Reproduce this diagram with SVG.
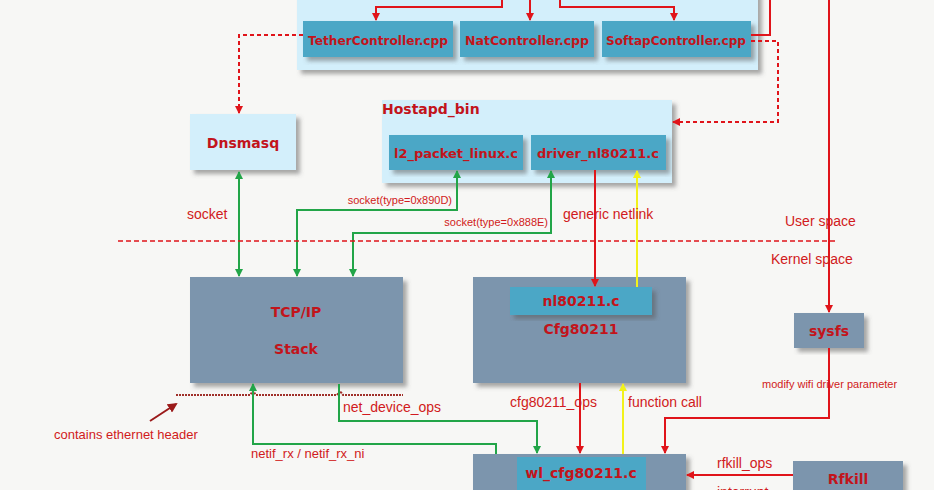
<svg xmlns="http://www.w3.org/2000/svg" width="934" height="490" viewBox="0 0 934 490">
<style>
.lb{fill:#d3effb}.tl{fill:#4ba7c6}.sl{fill:#7b95ad}
.bt{font-family:"DejaVu Sans",sans-serif;font-weight:bold;fill:#c2141b;text-anchor:middle}
.t{font-family:"Liberation Sans",sans-serif;fill:#d11a20}
.r{stroke:#e0141a;stroke-width:2;fill:none}
.rd{stroke:#e0141a;stroke-width:2;fill:none;stroke-dasharray:4,3}
.g{stroke:#22a548;stroke-width:2;fill:none}
.y{stroke:#f2f21a;stroke-width:2;fill:none}
</style>
<defs>
<marker id="ar" markerWidth="8" markerHeight="8" refX="7" refY="4" orient="auto" markerUnits="userSpaceOnUse"><path d="M0,0L8,4L0,8z" fill="#e0141a"/></marker>
<marker id="ag" markerWidth="8" markerHeight="8" refX="7" refY="4" orient="auto-start-reverse" markerUnits="userSpaceOnUse"><path d="M0,0L8,4L0,8z" fill="#22a548"/></marker>
<marker id="ay" markerWidth="8" markerHeight="8" refX="7" refY="4" orient="auto" markerUnits="userSpaceOnUse"><path d="M0,0L8,4L0,8z" fill="#f2f21a"/></marker>
<marker id="ab" markerWidth="10" markerHeight="10" refX="8" refY="5" orient="auto" markerUnits="userSpaceOnUse"><path d="M0,0L10,5L0,10z" fill="#9b1a1a"/></marker>
<filter id="sh" x="-10%" y="-10%" width="130%" height="130%"><feDropShadow dx="4" dy="4" stdDeviation="2" flood-color="#555" flood-opacity="0.5"/></filter>
</defs>
<rect width="934" height="490" fill="#f7f7f5"/>
<g id="netd"><rect class="lb" x="297" y="-10" width="461" height="80" filter="url(#sh)"/>
<rect class="tl" x="303" y="21" width="150" height="36" filter="url(#sh)"/><text class="bt" x="378" y="45" font-size="13" textLength="140" lengthAdjust="spacingAndGlyphs">TetherController.cpp</text>
<rect class="tl" x="460" y="21" width="134" height="36" filter="url(#sh)"/><text class="bt" x="527" y="45" font-size="13" textLength="124" lengthAdjust="spacingAndGlyphs">NatController.cpp</text>
<rect class="tl" x="602" y="21" width="149" height="36" filter="url(#sh)"/><text class="bt" x="676" y="45" font-size="13" textLength="140" lengthAdjust="spacingAndGlyphs">SoftapController.cpp</text></g>
<g id="dnsmasq"><rect class="lb" x="190" y="114" width="106" height="56" filter="url(#sh)"/><text class="bt" x="243" y="148" font-size="14">Dnsmasq</text></g>
<g id="hostapd"><rect class="lb" x="382" y="100" width="290" height="83" filter="url(#sh)"/><text class="bt" x="382" y="114" font-size="14" style="text-anchor:start">Hostapd_bin</text>
<rect class="tl" x="389" y="135" width="134" height="35" filter="url(#sh)"/><text class="bt" x="456" y="158" font-size="13">l2_packet_linux.c</text>
<rect class="tl" x="531" y="135" width="135" height="35" filter="url(#sh)"/><text class="bt" x="598" y="158" font-size="13">driver_nl80211.c</text></g>
<g id="tcpip"><rect class="sl" x="190" y="277" width="213" height="106" filter="url(#sh)"/><text class="bt" x="296" y="317" font-size="14">TCP/IP</text><text class="bt" x="296" y="354" font-size="14">Stack</text></g>
<g id="cfg80211"><rect class="sl" x="473" y="277" width="213" height="106" filter="url(#sh)"/><rect class="tl" x="510" y="287" width="142" height="28" filter="url(#sh)"/><text class="bt" x="581" y="306" font-size="14">nl80211.c</text><text class="bt" x="581" y="334" font-size="14">Cfg80211</text></g>
<g id="sysfs"><rect class="sl" x="794" y="313" width="70" height="35" filter="url(#sh)"/><text class="bt" x="829" y="336" font-size="14">sysfs</text></g>
<g id="wl"><rect class="sl" x="473" y="454" width="213" height="50" filter="url(#sh)"/><rect class="tl" x="517" y="457" width="129" height="40"/><text class="bt" x="581" y="478" font-size="14">wl_cfg80211.c</text></g>
<g id="rfkill"><rect class="sl" x="793" y="461" width="110" height="40" filter="url(#sh)"/><text class="bt" x="848" y="484" font-size="14">Rfkill</text></g>
<g id="connectors">
<path class="r" d="M502,0V7H376V20" marker-end="url(#ar)"/>
<path class="r" d="M530,0V20" marker-end="url(#ar)"/>
<path class="r" d="M560,0V7H674V20" marker-end="url(#ar)"/>
<path class="r" d="M751,35H770V0"/>
<path class="rd" d="M303,35H239V113" marker-end="url(#ar)"/>
<path class="rd" d="M751,41H778V122H673" marker-end="url(#ar)"/>
<path class="r" d="M829,0V312" marker-end="url(#ar)"/>
<path class="g" d="M239,172V276" marker-start="url(#ag)" marker-end="url(#ag)"/>
<path class="g" d="M457,171V210H297V276" marker-start="url(#ag)" marker-end="url(#ag)"/>
<path class="g" d="M551,171V233H353V276" marker-start="url(#ag)" marker-end="url(#ag)"/>
<path class="r" d="M595,170V286" marker-end="url(#ar)"/>
<path class="y" d="M637,287V171" marker-end="url(#ay)"/>
<path d="M118,241H836" stroke="#e0141a" stroke-width="1.5" stroke-dasharray="5,3"/>
<path d="M176,395H250l3,-4l3,4H337l3,-4l3,4H403" stroke="#a0302a" stroke-width="2" stroke-dasharray="2,1" fill="none"/>
<path d="M150,421L176,404" stroke="#9b1a1a" stroke-width="2" marker-end="url(#ab)"/>
<path class="g" d="M496,454V444H253V384" marker-end="url(#ag)"/>
<path class="g" d="M339,384V421H537V453" marker-end="url(#ag)"/>
<path class="r" d="M580,383V453" marker-end="url(#ar)"/>
<path class="y" d="M623,454V384" marker-end="url(#ay)"/>
<path class="r" d="M829,348V418H665V453" marker-end="url(#ar)"/>
<path class="r" d="M793,475H687" marker-end="url(#ar)"/>
</g>
<g id="labels">
<text class="t" x="187" y="219" font-size="14">socket</text>
<text class="t" x="452" y="204" font-size="11" text-anchor="end">socket(type=0x890D)</text>
<text class="t" x="548" y="226" font-size="11" text-anchor="end">socket(type=0x888E)</text>
<text class="t" x="563" y="219" font-size="14">generic netlink</text>
<text class="t" x="785" y="226" font-size="14">User space</text>
<text class="t" x="771" y="264" font-size="14">Kernel space</text>
<text class="t" x="54" y="439" font-size="13">contains ethernet header</text>
<text class="t" x="343" y="412" font-size="14">net_device_ops</text>
<text class="t" x="251" y="458" font-size="13">netif_rx / netif_rx_ni</text>
<text class="t" x="510" y="407" font-size="14">cfg80211_ops</text>
<text class="t" x="628" y="407" font-size="14">function call</text>
<text class="t" x="762" y="388" font-size="11">modify wifi driver parameter</text>
<text class="t" x="717" y="468" font-size="14">rfkill_ops</text>
<text class="t" x="717" y="497" font-size="14">interrupt</text>
</g>
</svg>
